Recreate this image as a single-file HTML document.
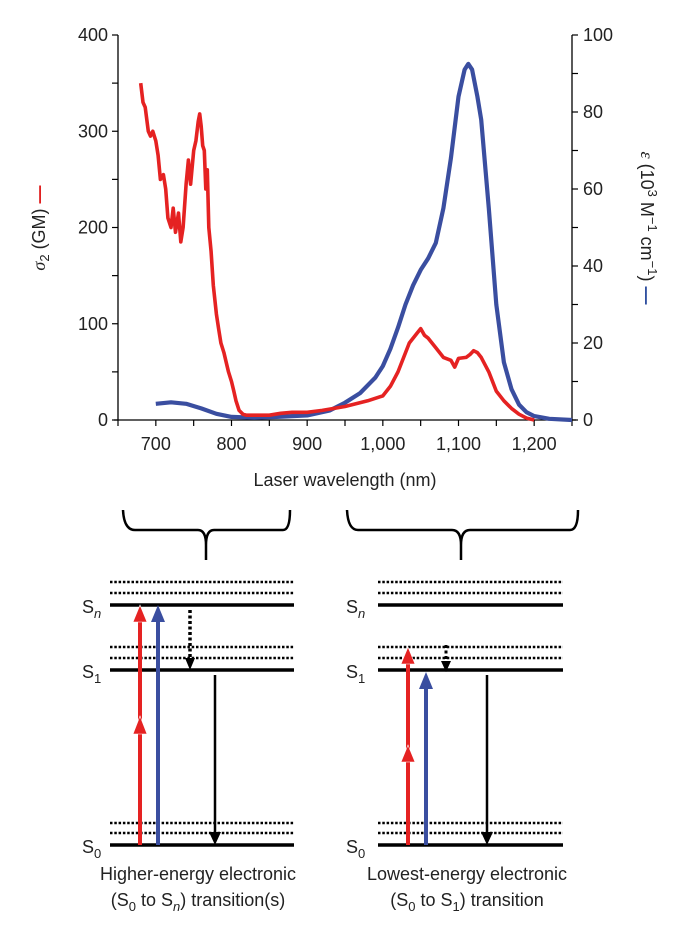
<!DOCTYPE html>
<html><head><meta charset="utf-8"><style>
body{margin:0;background:#fff}
svg{display:block;font-family:"Liberation Sans",sans-serif}
</style></head><body>
<svg id="c" width="685" height="936" viewBox="0 0 685 936">
<g id="chart"></g>
<g id="diag"></g>
</svg>
<script>
const xTicks=[700,800,900,1000,1100,1200];
const xTickLabels=["700","800","900","1,000","1,100","1,200"];
const leftTicks=[0,100,200,300,400];
const rightTicks=[0,20,40,60,80,100];
const redX=[680,683,686,690,693,696,700,703,706,710,713,716,720,723,726,730,733,736,740,743,746,750,753,756,758,760,762,764,766,768,770,773,776,780,783,786,790,793,796,800,803,806,810,815,820,835,850,865,880,900,920,950,980,1000,1010,1020,1035,1045,1050,1055,1060,1070,1080,1090,1095,1100,1110,1115,1120,1125,1130,1140,1150,1160,1170,1180,1190,1200];
const redY=[350,330,325,300,295,300,290,275,250,255,240,210,200,220,195,215,185,200,245,270,245,280,290,310,318,305,285,280,240,260,200,175,140,110,95,80,70,60,50,40,30,20,10,6,5,5,5,7,8,8,10,14,20,25,35,50,80,90,95,88,85,75,65,62,55,64,65,68,72,70,65,50,30,20,12,6,2,0];
const blueX=[700,720,740,760,780,800,830,860,900,930,950,970,990,1000,1010,1020,1030,1040,1050,1060,1070,1080,1090,1100,1108,1113,1118,1125,1130,1140,1150,1160,1170,1180,1190,1200,1220,1250];
const blueY=[4.2,4.6,4.2,3,1.6,0.8,0.6,0.8,1.2,2.5,4.5,7,11,14,18.5,24,30,35,39,42,46,55,68,84,91,92.5,91,84,78,55,30,15,8,4,2,1,0.3,0];
const NS='http://www.w3.org/2000/svg';
const X0=118,X1=572,Y0=420,Y1=35;
const sx=v=>X0+(v-650)/600*(X1-X0);
const sl=v=>Y0-v/400*(Y0-Y1);
const sr=v=>Y0-v/100*(Y0-Y1);
function mk(t,a,p){const e=document.createElementNS(NS,t);for(const k in a)e.setAttribute(k,a[k]);p.appendChild(e);return e;}
const g=document.getElementById('chart');
let e;
e=mk('line',{x1:X0,y1:Y1,x2:X0,y2:Y0,stroke:'#000','stroke-width':1.3},g);


e=mk('line',{x1:X1,y1:Y1,x2:X1,y2:Y0,stroke:'#000','stroke-width':1.3},g);


e=mk('line',{x1:X0-4,y1:Y0,x2:X1+4,y2:Y0,stroke:'#000','stroke-width':1.3},g);


for(let v=0;v<=400;v+=50){mk('line',{x1:X0-6,x2:X0,y1:sl(v),y2:sl(v),stroke:'#000','stroke-width':1.2},g);}
for(let v=0;v<=100;v+=10){mk('line',{x1:X1,x2:X1+6,y1:sr(v),y2:sr(v),stroke:'#000','stroke-width':1.2},g);}
for(let v=650;v<=1250;v+=50){mk('line',{x1:sx(v),x2:sx(v),y1:Y0,y2:Y0+6,stroke:'#000','stroke-width':1.2},g);}
leftTicks.forEach(v=>{const t=mk('text',{x:X0-10,y:sl(v)+6,'text-anchor':'end','font-size':18,fill:'#222'},g);t.textContent=v;

});
rightTicks.forEach(v=>{const t=mk('text',{x:X1+11,y:sr(v)+6,'font-size':18,fill:'#222'},g);t.textContent=v;

});
xTicks.forEach((v,i)=>{const t=mk('text',{x:sx(v),y:Y0+30,'text-anchor':'middle','font-size':18,fill:'#222'},g);t.textContent=xTickLabels[i];

});
e=mk('text',{x:345,y:486,'text-anchor':'middle','font-size':18,fill:'#222'},g);e.textContent='Laser wavelength (nm)';


e=mk('g',{transform:'translate(45,228) rotate(-90)'},g);


e.innerHTML='<text x="0" y="0" text-anchor="middle" font-size="18" fill="#222"><tspan font-style="italic" font-family="Liberation Serif">σ</tspan><tspan font-size="13" dy="4">2</tspan><tspan dy="-4"> (GM) </tspan><tspan fill="#e02020" font-weight="bold">—</tspan></text>';
e=mk('g',{transform:'translate(641,228) rotate(90)'},g);


e.innerHTML='<text x="0" y="0" text-anchor="middle" font-size="18" fill="#222"><tspan font-style="italic" font-family="Liberation Serif">ε</tspan><tspan> (10</tspan><tspan font-size="13" dy="-7">3</tspan><tspan dy="7"> M</tspan><tspan font-size="13" dy="-7">−1</tspan><tspan dy="7"> cm</tspan><tspan font-size="13" dy="-7">−1</tspan><tspan dy="7">) </tspan><tspan fill="#3050a0" font-weight="bold">—</tspan></text>';
e=mk('path',{d:blueX.map((v,i)=>(i?'L':'M')+sx(v).toFixed(1)+','+sr(blueY[i]).toFixed(1)).join(''),fill:'none',stroke:'#3a4ea0','stroke-width':4.2,'stroke-linejoin':'round'},g);


e=mk('path',{d:redX.map((v,i)=>(i?'L':'M')+sx(v).toFixed(1)+','+sl(redY[i]).toFixed(1)).join(''),fill:'none',stroke:'#e52222','stroke-width':3.6,'stroke-linejoin':'round'},g);



const d=document.getElementById('diag');
d.innerHTML=`
<path d="M123,510 Q124,530 135,530 L198,530 Q206,530 206,545 L206,560 M206,545 Q206,530 214,530 L283,530 Q290,530 290,510" fill="none" stroke="#000" stroke-width="2.5"/>
<path d="M347,510 Q348,530 358,530 L452,530 Q461,530 461,545 L461,560 M461,545 Q461,530 470,530 L570,530 Q578,530 578,510" fill="none" stroke="#000" stroke-width="2.5"/>
<g stroke="#000">
<line x1="110" x2="294" y1="582" y2="582" stroke-width="2.5" stroke-dasharray="2.5 1.8"/>
<line x1="110" x2="294" y1="593" y2="593" stroke-width="2.5" stroke-dasharray="2.5 1.8"/>
<line x1="110" x2="294" y1="605" y2="605" stroke-width="3.5"/>
<line x1="110" x2="294" y1="647" y2="647" stroke-width="2.5" stroke-dasharray="2.5 1.8"/>
<line x1="110" x2="294" y1="658" y2="658" stroke-width="2.5" stroke-dasharray="2.5 1.8"/>
<line x1="110" x2="294" y1="670" y2="670" stroke-width="3.5"/>
<line x1="110" x2="294" y1="823" y2="823" stroke-width="2.5" stroke-dasharray="2.5 1.8"/>
<line x1="110" x2="294" y1="833" y2="833" stroke-width="2.5" stroke-dasharray="2.5 1.8"/>
<line x1="110" x2="294" y1="845" y2="845" stroke-width="3.5"/>
</g>
<g stroke="#000">
<line x1="378" x2="563" y1="582" y2="582" stroke-width="2.5" stroke-dasharray="2.5 1.8"/>
<line x1="378" x2="563" y1="593" y2="593" stroke-width="2.5" stroke-dasharray="2.5 1.8"/>
<line x1="378" x2="563" y1="605" y2="605" stroke-width="3.5"/>
<line x1="378" x2="563" y1="647" y2="647" stroke-width="2.5" stroke-dasharray="2.5 1.8"/>
<line x1="378" x2="563" y1="658" y2="658" stroke-width="2.5" stroke-dasharray="2.5 1.8"/>
<line x1="378" x2="563" y1="670" y2="670" stroke-width="3.5"/>
<line x1="378" x2="563" y1="823" y2="823" stroke-width="2.5" stroke-dasharray="2.5 1.8"/>
<line x1="378" x2="563" y1="833" y2="833" stroke-width="2.5" stroke-dasharray="2.5 1.8"/>
<line x1="378" x2="563" y1="845" y2="845" stroke-width="3.5"/>
</g>
<g>
<line x1="140" y1="845" x2="140" y2="618" stroke="#e52222" stroke-width="4"/>
<path d="M133,622 L140,605 L147,622 Z M133,734 L140,716 L147,734 Z" fill="#e52222" stroke="#fff" stroke-width="0.6"/>
<line x1="158" y1="845" x2="158" y2="618" stroke="#3a4ea0" stroke-width="4"/>
<path d="M151,622 L158,605 L165,622 Z" fill="#3a4ea0"/>
<line x1="190" y1="610" x2="190" y2="660" stroke="#000" stroke-width="3.5" stroke-dasharray="3 2.5"/>
<path d="M185,658 L190,670 L195,658 Z" fill="#000"/>
<line x1="215" y1="675" x2="215" y2="835" stroke="#000" stroke-width="2.5"/>
<path d="M209,832 L215,845 L221,832 Z" fill="#000"/>
</g>
<g>
<line x1="408" y1="845" x2="408" y2="660" stroke="#e52222" stroke-width="4"/>
<path d="M401,664 L408,647 L415,664 Z M401,762 L408,745 L415,762 Z" fill="#e52222" stroke="#fff" stroke-width="0.6"/>
<line x1="426" y1="845" x2="426" y2="685" stroke="#3a4ea0" stroke-width="4"/>
<path d="M419,689 L426,672 L433,689 Z" fill="#3a4ea0"/>
<line x1="446" y1="645" x2="446" y2="662" stroke="#000" stroke-width="3" stroke-dasharray="3 2.5"/>
<path d="M441,661 L446,672 L451,661 Z" fill="#000"/>
<line x1="487" y1="675" x2="487" y2="835" stroke="#000" stroke-width="2.5"/>
<path d="M481,832 L487,845 L493,832 Z" fill="#000"/>
</g>
<g font-size="18" fill="#222">
<text x="82" y="613">S<tspan font-size="13" dy="5" font-style="italic">n</tspan></text>
<text x="82" y="678">S<tspan font-size="13" dy="5">1</tspan></text>
<text x="82" y="853">S<tspan font-size="13" dy="5">0</tspan></text>
<text x="346" y="613">S<tspan font-size="13" dy="5" font-style="italic">n</tspan></text>
<text x="346" y="678">S<tspan font-size="13" dy="5">1</tspan></text>
<text x="346" y="853">S<tspan font-size="13" dy="5">0</tspan></text>
</g>
<g font-size="18" fill="#222" text-anchor="middle">
<text x="198" y="880">Higher-energy electronic</text>
<text x="198" y="906">(S<tspan font-size="13" dy="5">0</tspan><tspan dy="-5"> to S</tspan><tspan font-size="13" dy="5" font-style="italic">n</tspan><tspan dy="-5">) transition(s)</tspan></text>
<text x="467" y="880">Lowest-energy electronic</text>
<text x="467" y="906">(S<tspan font-size="13" dy="5">0</tspan><tspan dy="-5"> to S</tspan><tspan font-size="13" dy="5">1</tspan><tspan dy="-5">) transition</tspan></text>
</g>`;
</script>
</body></html>
